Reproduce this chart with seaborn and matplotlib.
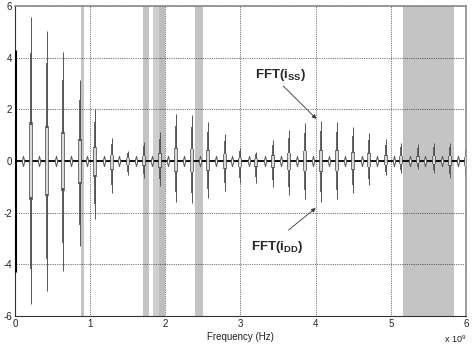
import numpy as np
import pandas as pd
import seaborn as sns
import matplotlib
matplotlib.use("Agg")
import matplotlib.pyplot as plt
from matplotlib.path import Path

# ---- data (frequency in units of 1e9 Hz) ----
spike_freq = [0.00, 0.21, 0.43, 0.64, 0.86, 1.07, 1.29, 1.50, 1.71, 1.93,
              2.14, 2.36, 2.57, 2.79, 3.00, 3.21, 3.43, 3.64, 3.86, 4.07,
              4.29, 4.50, 4.71, 4.93, 5.14, 5.36, 5.57, 5.79, 6.00]
spike_pos = [4.30, 5.57, 5.04, 4.20, 3.14, 2.00, 0.90, 0.40, 0.75, 1.13,
             1.82, 1.78, 1.51, 1.04, 0.50, 0.35, 0.81, 1.20, 1.47, 1.55,
             1.51, 1.31, 1.08, 0.85, 0.70, 0.66, 0.70, 0.70, 0.62]
spike_neg = [-4.30, -5.55, -5.04, -4.25, -3.30, -2.24, -1.24, -0.55, -0.65, -0.95,
             -1.60, -1.64, -1.45, -1.15, -0.86, -0.85, -1.00, -1.32, -1.48, -1.58,
             -1.48, -1.25, -0.93, -0.55, -0.45, -0.30, -0.47, -0.66, -0.72]
mid_freq = [0.11, 0.32, 0.54, 0.75, 0.96, 1.18, 1.39, 1.61, 1.82, 2.04,
            2.25, 2.46, 2.68, 2.89, 3.11, 3.32, 3.54, 3.75, 3.96, 4.18,
            4.39, 4.61, 4.82, 5.04, 5.25, 5.46, 5.68, 5.89]
mid_amp = [0.0] * len(mid_freq)
band_start = [0.872, 1.70, 1.836, 1.91, 2.39, 5.156]
band_end = [0.912, 1.785, 1.99, 1.99, 2.50, 5.84]
band_color = ["#c4c4c4", "#c4c4c4", "#cfcfcf", "#bdbdbd", "#c4c4c4", "#c4c4c4"]
x_ticks = [0, 1, 2, 3, 4, 5, 6]
y_ticks = [-6, -4, -2, 0, 2, 4, 6]

spikes = pd.DataFrame({"freq": spike_freq, "pos": spike_pos, "neg": spike_neg})
mids = pd.DataFrame({"freq": mid_freq, "amp": mid_amp})

sns.set_theme(style="white")
plt.rcParams["font.family"] = ["Liberation Sans", "DejaVu Sans"]
plt.rcParams["mathtext.fontset"] = "custom"
plt.rcParams["mathtext.rm"] = "Liberation Sans"
plt.rcParams["mathtext.bf"] = "Liberation Sans:bold"
plt.rcParams["axes.unicode_minus"] = False

fig = plt.figure(figsize=(4.74, 3.44), dpi=100)
ax = fig.add_axes([0.0316, 0.0814, 0.9515, 0.9012])
ax.set_axisbelow(True)

for s, e, c in zip(band_start, band_end, band_color):
    ax.axvspan(s, e, color=c, lw=0, zorder=0.2)

sc = "#555555"
f = spikes["freq"][1:]
p = spikes["pos"][1:]
n = spikes["neg"][1:]
ax.vlines(f, n, p, color=sc, lw=0.7, zorder=2)
ax.vlines(f, 0.75 * n, 0.75 * p, color=sc, lw=1.3, zorder=2.1)
ax.vlines(f, 0.27 * n, 0.27 * p, color=sc, lw=2.6, zorder=3.2)
ax.vlines(f, 0.25 * n, 0.25 * p, color="white", lw=1.1, zorder=3.3)
ax.vlines(spikes["freq"][:1], spikes["neg"][:1], spikes["pos"][:1], color="black", lw=2.2, zorder=3)

sns.lineplot(x=[0, 6], y=[0, 0], color="black", lw=1.3, ax=ax, zorder=3)

diamond = Path([(0, 1), (0.25, 0), (0, -1), (-0.25, 0), (0, 1)],
               [Path.MOVETO, Path.LINETO, Path.LINETO, Path.LINETO, Path.CLOSEPOLY])
sns.scatterplot(data=mids, x="freq", y="amp", marker=diamond, s=55,
                facecolor="white", edgecolor=sc, linewidth=0.7, ax=ax, zorder=4)

ax.set_xlim(0, 6)
ax.set_ylim(-6, 6)
ax.set_xticks(x_ticks)
ax.set_yticks(y_ticks)
ax.set_xticklabels([str(t) for t in x_ticks])
ax.set_yticklabels([str(t) for t in y_ticks])
ax.grid(True, color="black", linestyle=(0, (1, 1.6)), lw=0.5)
ax.tick_params(direction="in", length=3, labelsize=7, pad=2, colors="#222222")
ax.set_xlabel("Frequency (Hz)", fontsize=7, labelpad=2, color="#222222")
ax.set_ylabel("")

for side in ["left", "bottom"]:
    ax.spines[side].set_color("#333333")
    ax.spines[side].set_linewidth(0.8)
for side in ["top", "right"]:
    ax.spines[side].set_color("#8c8c8c")
    ax.spines[side].set_linewidth(1.2)

ax.text(1.0, -0.075, r"x 10$^9$", transform=ax.transAxes, ha="right", va="center",
        fontsize=6.5, color="#222222")

ax.text(3.53, 3.33, r"FFT(i$_{\mathbf{SS}}$)", fontsize=9.5, fontweight="bold",
        ha="center", va="center", zorder=6)
ax.annotate("", xy=(4.01, 1.63), xytext=(3.57, 2.9),
            arrowprops=dict(arrowstyle="-|>", color="#333333", lw=0.6,
                            mutation_scale=6, shrinkA=0, shrinkB=0), zorder=6)
ax.text(3.49, -3.33, r"FFT(i$_{\mathbf{DD}}$)", fontsize=9.5, fontweight="bold",
        ha="center", va="center", zorder=6)
ax.annotate("", xy=(4.0, -1.82), xytext=(3.64, -2.67),
            arrowprops=dict(arrowstyle="-|>", color="#333333", lw=0.6,
                            mutation_scale=6, shrinkA=0, shrinkB=0), zorder=6)

fig.savefig("out.png", dpi=100)
